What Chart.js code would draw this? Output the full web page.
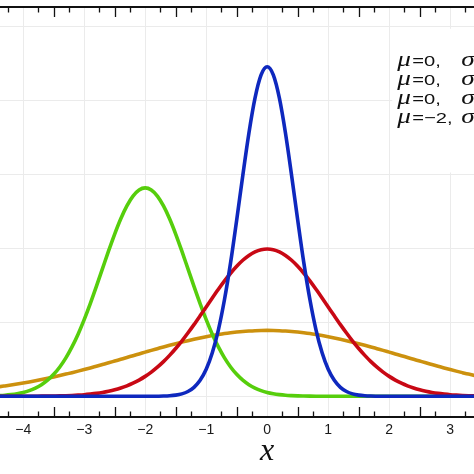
<!DOCTYPE html>
<html>
<head>
<meta charset="utf-8">
<script src="https://cdn.jsdelivr.net/npm/chart.js@4.4.1/dist/chart.umd.min.js"></script>
<style>
  html, body { margin: 0; padding: 0; background: #fff; }
  #chart { display: block; }
</style>
</head>
<body>
<canvas id="chart" width="474" height="474"></canvas>
<script>
// sample positions along x
const xs = [
  -4.5, -4.4, -4.3, -4.2, -4.1, -4.0, -3.9, -3.8, -3.7, -3.6,
  -3.5, -3.4, -3.3, -3.2, -3.1, -3.0, -2.9, -2.8, -2.7, -2.6,
  -2.5, -2.4, -2.3, -2.2, -2.1, -2.0, -1.9, -1.8, -1.7, -1.6,
  -1.5, -1.4, -1.3, -1.2, -1.1, -1.0, -0.9, -0.8, -0.7, -0.6,
  -0.5, -0.4, -0.3, -0.2, -0.1, 0, 0.1, 0.2, 0.3, 0.4,
  0.5, 0.6, 0.7, 0.8, 0.9, 1.0, 1.1, 1.2, 1.3, 1.4,
  1.5, 1.6, 1.7, 1.8, 1.9, 2.0, 2.1, 2.2, 2.3, 2.4,
  2.5, 2.6, 2.7, 2.8, 2.9, 3.0, 3.1, 3.2, 3.3, 3.4,
  3.5
];

// mu=0, sigma^2=0.2
const blueY = [
  0, 0, 0, 0, 0, 0, 0, 0, 0, 0,
  0, 0, 0, 0, 0, 0, 0, 0, 0, 0,
  0, 0, 0, 0, 0, 0, 0, 0.0003, 0.0007, 0.0015,
  0.0032, 0.0066, 0.0130, 0.0244, 0.0433, 0.0732, 0.1178, 0.1801, 0.2621, 0.3619,
  0.4775, 0.5980, 0.7124, 0.8072, 0.8701, 0.8921, 0.8701, 0.8072, 0.7124, 0.5980,
  0.4775, 0.3619, 0.2621, 0.1801, 0.1178, 0.0732, 0.0433, 0.0244, 0.0130, 0.0066,
  0.0032, 0.0015, 0.0007, 0.0003, 0, 0, 0, 0, 0, 0,
  0, 0, 0, 0, 0, 0, 0, 0, 0, 0,
  0
];

// mu=0, sigma^2=1
const redY = [
  0, 0, 0, 0, 0.0001, 0.0001, 0.0002, 0.0003, 0.0004, 0.0006,
  0.0009, 0.0012, 0.0017, 0.0024, 0.0033, 0.0044, 0.0060, 0.0079, 0.0104, 0.0136,
  0.0175, 0.0224, 0.0283, 0.0355, 0.0440, 0.0540, 0.0656, 0.0790, 0.0940, 0.1109,
  0.1295, 0.1497, 0.1714, 0.1942, 0.2179, 0.2420, 0.2661, 0.2897, 0.3123, 0.3332,
  0.3521, 0.3683, 0.3814, 0.3910, 0.3970, 0.3989, 0.3970, 0.3910, 0.3814, 0.3683,
  0.3521, 0.3332, 0.3123, 0.2897, 0.2661, 0.2420, 0.2179, 0.1942, 0.1714, 0.1497,
  0.1295, 0.1109, 0.0940, 0.0790, 0.0656, 0.0540, 0.0440, 0.0355, 0.0283, 0.0224,
  0.0175, 0.0136, 0.0104, 0.0079, 0.0060, 0.0044, 0.0033, 0.0024, 0.0017, 0.0012,
  0.0009
];

// mu=0, sigma^2=5
const orangeY = [
  0.0236, 0.0257, 0.0281, 0.0306, 0.0332, 0.0360, 0.0390, 0.0421, 0.0454, 0.0488,
  0.0524, 0.0561, 0.0601, 0.0641, 0.0682, 0.0725, 0.0769, 0.0815, 0.0861, 0.0907,
  0.0955, 0.1003, 0.1051, 0.1100, 0.1148, 0.1196, 0.1244, 0.1290, 0.1336, 0.1381,
  0.1425, 0.1467, 0.1507, 0.1545, 0.1581, 0.1614, 0.1645, 0.1673, 0.1699, 0.1721,
  0.1740, 0.1756, 0.1768, 0.1777, 0.1782, 0.1784, 0.1782, 0.1777, 0.1768, 0.1756,
  0.1740, 0.1721, 0.1699, 0.1673, 0.1645, 0.1614, 0.1581, 0.1545, 0.1507, 0.1467,
  0.1425, 0.1381, 0.1336, 0.1290, 0.1244, 0.1196, 0.1148, 0.1100, 0.1051, 0.1003,
  0.0955, 0.0907, 0.0861, 0.0815, 0.0769, 0.0725, 0.0682, 0.0641, 0.0601, 0.0561,
  0.0524
];

// mu=-2, sigma^2=0.5
const greenY = [
  0.0011, 0.0018, 0.0028, 0.0045, 0.0069, 0.0103, 0.0153, 0.0221, 0.0314, 0.0436,
  0.0595, 0.0795, 0.1041, 0.1337, 0.1683, 0.2076, 0.2510, 0.2975, 0.3456, 0.3936,
  0.4394, 0.4808, 0.5156, 0.5421, 0.5586, 0.5642, 0.5586, 0.5421, 0.5156, 0.4808,
  0.4394, 0.3936, 0.3456, 0.2975, 0.2510, 0.2076, 0.1683, 0.1337, 0.1041, 0.0795,
  0.0595, 0.0436, 0.0314, 0.0221, 0.0153, 0.0103, 0.0069, 0.0045, 0.0028, 0.0018,
  0.0011, 0.0007, 0.0004, 0.0002, 0.0001, 0, 0, 0, 0, 0,
  0, 0, 0, 0, 0, 0, 0, 0, 0, 0,
  0, 0, 0, 0, 0, 0, 0, 0, 0, 0,
  0
];

const legendMu = ['0', '0', '0', '\u22122'];
const legendSigma = ['0.2', '1.0', '5.0', '0.5'];

const toPoints = ys => xs.map((x, i) => ({ x: x, y: ys[i] }));

const curve = (data, color, order) => ({
  data: toPoints(data),
  borderColor: color,
  borderWidth: 3.6,
  pointRadius: 0,
  showLine: true,
  fill: false,
  cubicInterpolationMode: 'monotone',
  order: order
});

// white legend panel, legend text, axis title, extra ticks
const decorations = {
  id: 'decorations',
  beforeDatasetsDraw(chart) {
    const { ctx, chartArea, scales } = chart;
    const left = scales.x.getPixelForValue(2.05);
    const top = scales.y.getPixelForValue(0.995);
    const bottom = scales.y.getPixelForValue(0.606);
    ctx.save();
    ctx.fillStyle = '#fff';
    ctx.fillRect(left, top, chartArea.right - left + 2, bottom - top);
    ctx.restore();
  },
  afterDraw(chart) {
    const { ctx, chartArea, scales } = chart;
    const sx = scales.x;
    ctx.save();
    // top frame line
    ctx.strokeStyle = '#111';
    ctx.lineWidth = 2;
    ctx.beginPath();
    ctx.moveTo(chartArea.left, chartArea.top);
    ctx.lineTo(chartArea.right, chartArea.top);
    ctx.stroke();
    // ticks every quarter, longer at the halves
    ctx.lineWidth = 1.3;
    for (let k = Math.floor(sx.min) - 1; k <= Math.ceil(sx.max); k++) {
      [0.25, 0.5, 0.75].forEach(f => {
        const v = k + f;
        if (v < sx.min || v > sx.max) return;
        const px = Math.round(sx.getPixelForValue(v)) + 0.5;
        const len = f === 0.5 ? 10 : 5.5;
        ctx.beginPath();
        ctx.moveTo(px, chartArea.bottom);
        ctx.lineTo(px, chartArea.bottom - len);
        ctx.moveTo(px, chartArea.top);
        ctx.lineTo(px, chartArea.top + len);
        ctx.stroke();
      });
    }
    // axis title under x = 0
    ctx.fillStyle = '#111';
    ctx.textAlign = 'center';
    ctx.textBaseline = 'alphabetic';
    ctx.font = 'italic 32px "Liberation Serif"';
    ctx.fillText('x', sx.getPixelForValue(0), chartArea.bottom + 43);
    // legend text (slightly widened, like the source)
    ctx.textAlign = 'left';
    const stretch = 1.3;
    const x0 = sx.getPixelForValue(2.05) + 5;
    const xSigma = sx.getPixelForValue(3.18);
    const rowY = [0.895, 0.843, 0.792, 0.740];
    legendMu.forEach((mu, i) => {
      const y = scales.y.getPixelForValue(rowY[i]);
      ctx.save();
      ctx.translate(x0, y);
      ctx.scale(stretch, 1);
      ctx.font = 'italic 21px "Liberation Serif"';
      ctx.fillText('\u03bc', 0, 0);
      const w = ctx.measureText('\u03bc').width;
      ctx.font = '15.5px "Liberation Sans"';
      ctx.fillText('=' + mu + ',', w + 1, 0);
      const ls = (xSigma - x0) / stretch;
      ctx.font = 'italic 21px "Liberation Serif"';
      ctx.fillText('\u03c3', ls, 0);
      const ws = ctx.measureText('\u03c3').width;
      ctx.font = '11px "Liberation Sans"';
      ctx.fillText('2', ls + ws, -8);
      ctx.font = '15.5px "Liberation Sans"';
      ctx.fillText(' = ' + legendSigma[i], ls + ws + 6, 0);
      ctx.restore();
    });
    ctx.restore();
  }
};

new Chart(document.getElementById('chart'), {
  type: 'scatter',
  data: {
    datasets: [
      curve(blueY, 'rgb(14, 40, 190)', 1),
      curve(redY, 'rgb(200, 8, 20)', 2),
      curve(greenY, 'rgb(86, 206, 12)', 3),
      curve(orangeY, 'rgb(204, 145, 14)', 4)
    ]
  },
  options: {
    responsive: false,
    animation: false,
    layout: { padding: { top: 7, left: 0, right: 0, bottom: 0 } },
    plugins: {
      legend: { display: false },
      tooltip: { enabled: false }
    },
    scales: {
      x: {
        type: 'linear',
        position: 'bottom',
        min: -4.38,
        max: 3.39,
        afterFit(s) { s.height = 57; },
        grid: { color: '#ebebeb', lineWidth: 1, drawTicks: false },
        border: { display: true, color: '#111', width: 2 },
        ticks: {
          stepSize: 1,
          includeBounds: false,
          padding: 5,
          maxRotation: 0,
          color: '#1a1a1a',
          font: { family: 'Liberation Sans', size: 14 },
          callback: v => (v < 0 ? '\u2212' + Math.abs(v) : String(v))
        }
      },
      y: {
        type: 'linear',
        min: -0.056,
        max: 1.054,
        afterFit(s) { s.width = 0; },
        grid: { color: '#ebebeb', lineWidth: 1, drawTicks: false },
        border: { display: false },
        ticks: { display: false, stepSize: 0.2, includeBounds: false }
      }
    }
  },
  plugins: [decorations]
});
</script>
</body>
</html>
